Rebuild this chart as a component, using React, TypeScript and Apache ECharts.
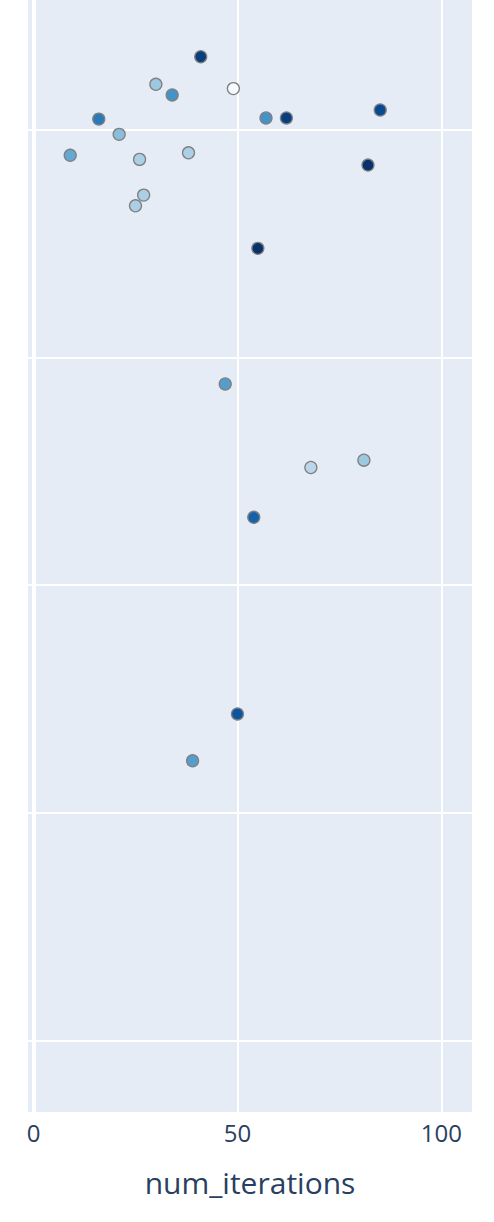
import { useEffect, useRef } from "react";
import * as echarts from "echarts";

// trial params (x), objective values (y), trial numbers (colour)
const numIterations = [41, 30, 34, 49, 16, 21, 9, 26, 38, 27, 25, 57, 62, 85, 82, 55, 47, 68, 81, 54, 50, 39];
const objectiveValues = [
  0.5322, 0.5201, 0.5154, 0.5182, 0.5048, 0.4981, 0.4889, 0.4871, 0.49, 0.4714, 0.4667,
  0.5053, 0.5053, 0.5088, 0.4846, 0.448, 0.3884, 0.3517, 0.3549, 0.3298, 0.2434, 0.2228,
];
const trialNumbers = [20, 8, 13, 0, 15, 9, 11, 7, 7, 7, 7, 13, 20, 19, 21, 21, 12, 6, 8, 17, 18, 12];

const xTicks = [0, 50, 100];
const yTicks = [0.1, 0.2, 0.3, 0.4, 0.5];

const BLUES = [
  "rgb(247,251,255)",
  "rgb(222,235,247)",
  "rgb(198,219,239)",
  "rgb(158,202,225)",
  "rgb(107,174,214)",
  "rgb(66,146,198)",
  "rgb(33,113,181)",
  "rgb(8,81,156)",
  "rgb(8,48,107)",
];

const INK = "#2a3f5f";
const FONT = "'Open Sans', verdana, arial, sans-serif";

export default function App() {
  const ref = useRef<HTMLDivElement>(null);

  useEffect(() => {
    if (!ref.current) return;
    const chart = echarts.init(ref.current, undefined, { renderer: "svg" });
    const data = numIterations.map((x, i) => [x, objectiveValues[i], trialNumbers[i]]);

    chart.setOption({
      animation: false,
      textStyle: { fontFamily: FONT },
      grid: {
        show: true,
        left: 28,
        right: 22,
        top: 0,
        bottom: 110,
        backgroundColor: "#E5ECF6",
        borderWidth: 0,
      },
      visualMap: {
        show: false,
        type: "continuous",
        dimension: 2,
        min: 0,
        max: 21,
        inRange: { color: BLUES },
      },
      xAxis: {
        type: "value",
        min: -1.35,
        max: 107.5,
        name: "num_iterations",
        nameLocation: "middle",
        nameGap: 55,
        nameTextStyle: { color: INK, fontSize: 30, fontFamily: FONT },
        axisLine: { show: false },
        axisTick: { show: false, customValues: xTicks },
        axisLabel: {
          customValues: xTicks,
          color: INK,
          fontSize: 24,
          margin: 8,
          fontFamily: FONT,
        },
        splitLine: { show: true, lineStyle: { color: "#ffffff", width: 2 } },
      },
      yAxis: {
        type: "value",
        min: 0.06848,
        max: 0.55714,
        axisLine: { show: true, onZero: true, lineStyle: { color: "#ffffff", width: 4 } },
        axisTick: { show: false, customValues: yTicks },
        axisLabel: { show: false, customValues: yTicks },
        splitLine: { show: true, lineStyle: { color: "#ffffff", width: 2 } },
      },
      series: [
        {
          type: "scatter",
          data,
          symbolSize: 12,
          itemStyle: { borderColor: "#808080", borderWidth: 1.3, opacity: 1 },
        },
      ],
    });

    return () => chart.dispose();
  }, []);

  return (
    <div
      ref={ref}
      style={{ position: "absolute", left: 0, top: 0, width: 494, height: 1222 }}
    />
  );
}
